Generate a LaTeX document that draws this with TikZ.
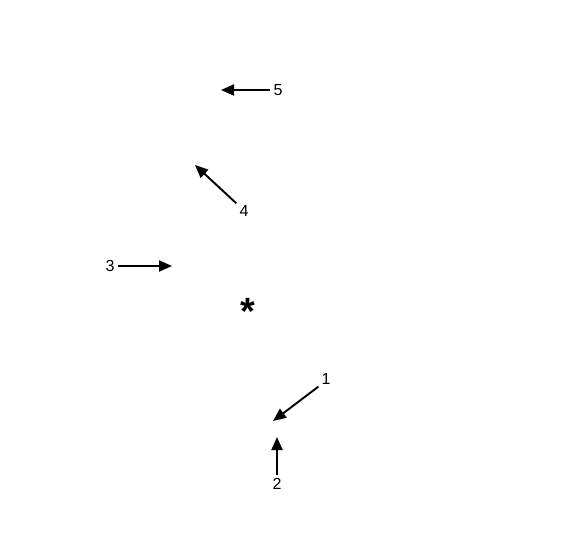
\documentclass[tikz,border=0pt]{standalone}
\usepackage{fontspec}
\setmainfont{Liberation Sans}
\usetikzlibrary{arrows.meta,positioning,calc}

\begin{document}
\begin{tikzpicture}[x=1pt, y=-1pt, font=\fontsize{16}{18}\selectfont,
    lbl/.style={inner sep=3pt},
    pointer/.style={-{Triangle[length=13pt,width=11pt]}, line width=1.9pt}]
  \useasboundingbox (0,0) rectangle (562,544);

  % numbered labels
  \node[lbl] (n1) at (326,379) {1};
  \node[lbl] (n2) at (277,484) {2};
  \node[lbl] (n3) at (110,266) {3};
  \node[lbl] (n4) at (244,211) {4};
  \node[lbl] (n5) at (278,90) {5};
  \node (star) at (248,311) {\fontsize{38}{38}\selectfont\bfseries *};

  % arrow heads
  \coordinate (h1) at (273,421);
  \coordinate (h2) at (277,437);
  \coordinate (h3) at (172,266);
  \coordinate (h4) at (195,165);
  \coordinate (h5) at (221,90);

  \draw[pointer] (n1.225) -- (h1);
  \draw[pointer] (n2.north) -- (h2);
  \draw[pointer] (n3.east) -- (h3);
  \draw[pointer] (n4.135) -- (h4);
  \draw[pointer] (n5.west) -- (h5);
\end{tikzpicture}
\end{document}
